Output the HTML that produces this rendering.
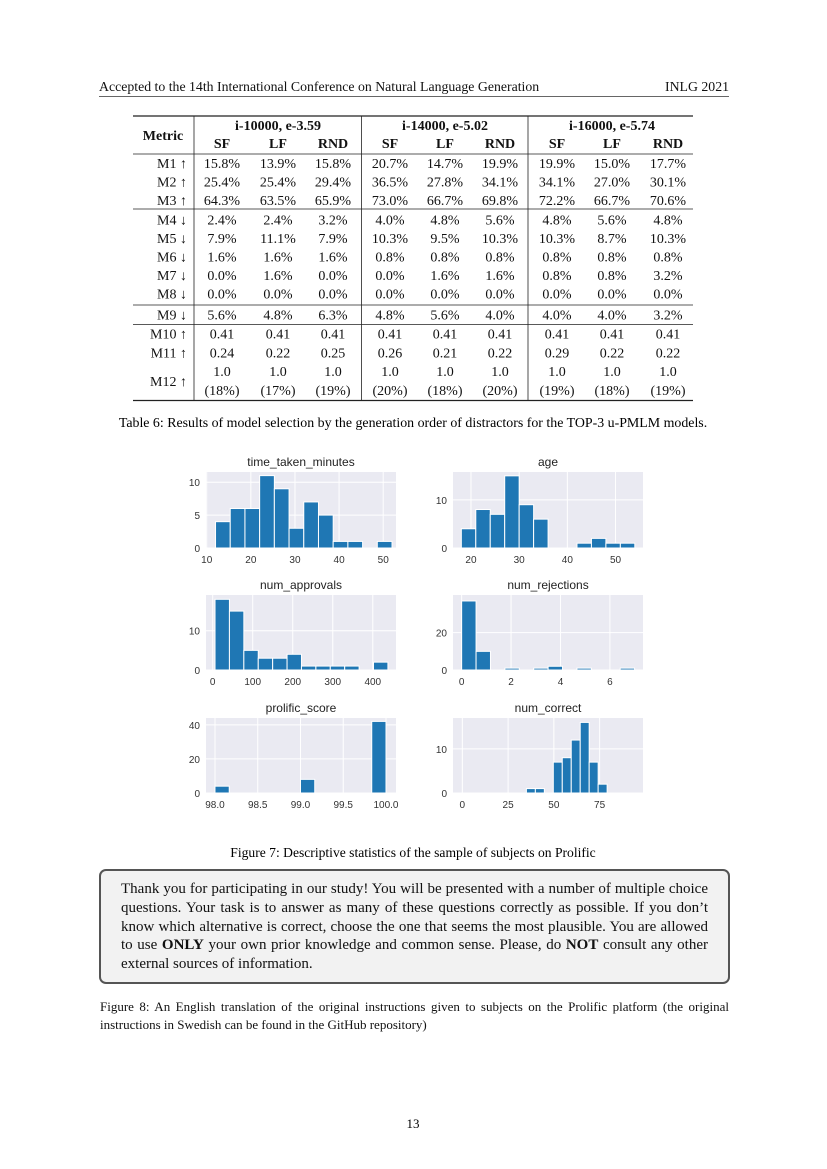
<!DOCTYPE html>
<html><head><meta charset="utf-8">
<style>
html,body{margin:0;padding:0;background:#fff;}
body{width:827px;height:1169px;position:relative;overflow:hidden;font-family:"Liberation Serif",serif;color:#111;}
.abs{position:absolute;}
.para div{text-align:justify;text-align-last:justify;white-space:nowrap;height:18.8px;line-height:18.8px;}
.para div.last{text-align-last:left;}
.cap div{text-align:justify;text-align-last:justify;white-space:nowrap;height:17.5px;line-height:17.5px;}
.cap div.last{text-align-last:left;}
</style></head>
<body>
<svg class="abs" style="left:0;top:0" width="827" height="1169">
  <g font-family="Liberation Serif, serif" font-size="13.8" fill="#111">
    <text x="99" y="91">Accepted to the 14th International Conference on Natural Language Generation</text>
    <text x="729" y="91" text-anchor="end">INLG 2021</text>
    <line x1="99" y1="96.5" x2="729" y2="96.5" stroke="#333" stroke-width="0.8"/>
  </g>
  <g id="table" font-family="Liberation Serif, serif" font-size="14" fill="#111"></g>
  <text x="413" y="427" text-anchor="middle" font-size="13.9" font-family="Liberation Serif, serif">Table 6:  Results of model selection by the generation order of distractors for the TOP-3 u-PMLM models.</text>
  <g id="charts"></g>
  <text x="413" y="857" text-anchor="middle" font-size="13.6" font-family="Liberation Serif, serif">Figure 7: Descriptive statistics of the sample of subjects on Prolific</text>
  <rect x="100" y="870" width="629" height="113" rx="6" fill="#f2f2f2" stroke="#555" stroke-width="2"/>
  <text x="413" y="1128" text-anchor="middle" font-size="13" font-family="Liberation Serif, serif">13</text>
</svg>
<div class="abs para" style="left:121px;top:880px;width:587px;font-size:15px;">
<div>Thank you for participating in our study! You will be presented with a number of multiple choice</div>
<div>questions. Your task is to answer as many of these questions correctly as possible. If you don’t</div>
<div>know which alternative is correct, choose the one that seems the most plausible. You are allowed</div>
<div>to use <b>ONLY</b> your own prior knowledge and common sense. Please, do <b>NOT</b> consult any other</div>
<div class="last">external sources of information.</div>
</div>
<div class="abs cap" style="left:100px;top:998px;width:629px;font-size:13px;">
<div>Figure 8: An English translation of the original instructions given to subjects on the Prolific platform (the original</div>
<div class="last">instructions in Swedish can be found in the GitHub repository)</div>
</div>
<script>
// ---------- table data ----------
const groups = ["i-10000, e-3.59","i-14000, e-5.02","i-16000, e-5.74"];
const subCols = ["SF","LF","RND"];
const metrics = ["M1 ↑","M2 ↑","M3 ↑","M4 ↓","M5 ↓","M6 ↓","M7 ↓","M8 ↓","M9 ↓","M10 ↑","M11 ↑"];
const tableRows = [
 ["15.8%","13.9%","15.8%","20.7%","14.7%","19.9%","19.9%","15.0%","17.7%"],
 ["25.4%","25.4%","29.4%","36.5%","27.8%","34.1%","34.1%","27.0%","30.1%"],
 ["64.3%","63.5%","65.9%","73.0%","66.7%","69.8%","72.2%","66.7%","70.6%"],
 ["2.4%","2.4%","3.2%","4.0%","4.8%","5.6%","4.8%","5.6%","4.8%"],
 ["7.9%","11.1%","7.9%","10.3%","9.5%","10.3%","10.3%","8.7%","10.3%"],
 ["1.6%","1.6%","1.6%","0.8%","0.8%","0.8%","0.8%","0.8%","0.8%"],
 ["0.0%","1.6%","0.0%","0.0%","1.6%","1.6%","0.8%","0.8%","3.2%"],
 ["0.0%","0.0%","0.0%","0.0%","0.0%","0.0%","0.0%","0.0%","0.0%"],
 ["5.6%","4.8%","6.3%","4.8%","5.6%","4.0%","4.0%","4.0%","3.2%"],
 ["0.41","0.41","0.41","0.41","0.41","0.41","0.41","0.41","0.41"],
 ["0.24","0.22","0.25","0.26","0.21","0.22","0.29","0.22","0.22"]
];
const m12Top = ["1.0","1.0","1.0","1.0","1.0","1.0","1.0","1.0","1.0"];
const m12Bot = ["(18%)","(17%)","(19%)","(20%)","(18%)","(20%)","(19%)","(18%)","(19%)"];

const NS="http://www.w3.org/2000/svg";
function mk(parent,tag,attrs,txt){const e=document.createElementNS(NS,tag);for(const k in attrs)e.setAttribute(k,attrs[k]);if(txt!==undefined)e.textContent=txt;parent.appendChild(e);return e;}

(function(){
 const t=document.getElementById('table');
 const rowY=[163,181.5,200,219.5,238,256.5,275,293.5,314.5,333.5,352.5];
 const colX=[222,278,333,390,445,500,557,612,668];
 const gX=[278,445,612];
 const hl=[[116,1.2],[154,0.8],[209,0.8],[305,0.8],[324.5,0.8],[400.5,1.2]];
 hl.forEach(h=>{const l=mk(t,'line',{x1:133,x2:693,y1:h[0],y2:h[0],stroke:'#222','stroke-width':h[1]});
  
  });
 [194,361.5,528].forEach(x=>{const l=mk(t,'line',{x1:x,x2:x,y1:116,y2:400.5,stroke:'#222','stroke-width':0.8});
  
  });
 const mh=mk(t,'text',{x:163,y:140,'text-anchor':'middle','font-weight':'bold'},'Metric');
 
 
 groups.forEach((g,i)=>{const e=mk(t,'text',{x:gX[i],y:130,'text-anchor':'middle','font-weight':'bold'},g);
  
  
  subCols.forEach((s,j)=>{const f=mk(t,'text',{x:colX[i*3+j],y:148,'text-anchor':'middle','font-weight':'bold'},s);
   
   });});
 metrics.forEach((m,r)=>{const e=mk(t,'text',{x:187,y:rowY[r]+5,'text-anchor':'end'},m);
  
  
  tableRows[r].forEach((v,c)=>{const f=mk(t,'text',{x:colX[c],y:rowY[r]+5,'text-anchor':'middle'},v);
   
   });});
 const m12=mk(t,'text',{x:187,y:386,'text-anchor':'end'},'M12 ↑');
 
 
 m12Top.forEach((v,c)=>{const f=mk(t,'text',{x:colX[c],y:376,'text-anchor':'middle'},v);
  
  });
 m12Bot.forEach((v,c)=>{const f=mk(t,'text',{x:colX[c],y:395,'text-anchor':'middle'},v);
  
  });
})();
</script>
<script>
// ---------- histogram data ----------
const timeCounts=[4,6,6,11,9,3,7,5,1,1,0,1];
const timeBins=[12,3.333];
const ageCounts=[4,8,7,15,9,6,0,0,1,2,1,1];
const ageBins=[18,3];
const apprCounts=[18,15,5,3,3,4,1,1,1,1,0,2];
const apprBins=[5.8,36];
const rejCounts=[37,10,0,1,0,1,2,0,1,0,0,1];
const rejBins=[0,0.5833];
const scoreCounts=[4,0,0,0,0,0,8,0,0,0,0,42];
const scoreBins=[98,0.16667];
const corrCounts=[1,1,0,7,8,12,16,7,2];
const corrBins=[35,4.9];
const timeXTicks=[10,20,30,40,50], timeYTicks=[0,5,10];
const ageXTicks=[20,30,40,50], ageYTicks=[0,10];
const apprXTicks=[0,100,200,300,400], apprYTicks=[0,10];
const rejXTicks=[0,2,4,6], rejYTicks=[0,20];
const scoreXTicks=["98.0","98.5","99.0","99.5","100.0"], scoreYTicks=[0,20,40];
const corrXTicks=[0,25,50,75], corrYTicks=[0,10];

(function(){
 const g=document.getElementById('charts');
 function hist(name,title,box,xdom,ymax,counts,bins,xt,yt){
  const [L,T,R,B]=box;
  const sx=v=>L+(v-xdom[0])/(xdom[1]-xdom[0])*(R-L);
  const sy=v=>B-v/ymax*(B-T);
  const grp=mk(g,'g',{});
  
  
  mk(grp,'rect',{x:L,y:T,width:R-L,height:B-T,fill:'#eaeaf2'});
  xt.forEach(v=>{const x=sx(+v);mk(grp,'line',{x1:x,x2:x,y1:T,y2:B,stroke:'#fff','stroke-width':1});
   const tx=mk(grp,'text',{x:x,y:B+15,'text-anchor':'middle','font-size':10,fill:'#333','font-family':'Liberation Sans, sans-serif'},String(v));
   
   });
  yt.forEach(v=>{const y=sy(v);mk(grp,'line',{x1:L,x2:R,y1:y,y2:y,stroke:'#fff','stroke-width':1});
   const tx=mk(grp,'text',{x:L-6,y:y+4,'text-anchor':'end','font-size':10,fill:'#333','font-family':'Liberation Sans, sans-serif'},String(v));
   
   });
  counts.forEach((c,i)=>{if(c<=0)return;const x0=sx(bins[0]+i*bins[1]),x1=sx(bins[0]+(i+1)*bins[1]);
   const r=mk(grp,'rect',{x:x0,y:sy(c),width:x1-x0,height:B-sy(c),fill:'#1f77b4',stroke:'#fff','stroke-width':1});
   
   });
  const tt=mk(grp,'text',{x:(L+R)/2,y:T-6,'text-anchor':'middle','font-size':12,fill:'#222','font-family':'Liberation Sans, sans-serif'},title);
  
  
 }
 hist('time','time_taken_minutes',[206,472,396,548],[9.84,52.9],11.55,timeCounts,timeBins,timeXTicks,timeYTicks);
 hist('age','age',[453,472,643,548],[16.27,55.7],15.8,ageCounts,ageBins,ageXTicks,ageYTicks);
 hist('approvals','num_approvals',[206,595,396,670],[-16.75,458],19.1,apprCounts,apprBins,apprXTicks,apprYTicks);
 hist('rejections','num_rejections',[453,595,643,670],[-0.35,7.34],40.2,rejCounts,rejBins,rejXTicks,rejYTicks);
 hist('score','prolific_score',[206,718,396,793],[97.895,100.117],44,scoreCounts,scoreBins,scoreXTicks,scoreYTicks);
 hist('correct','num_correct',[453,718,643,793],[-5.1,98.7],17,corrCounts,corrBins,corrXTicks,corrYTicks);
})();
</script>
</body></html>
